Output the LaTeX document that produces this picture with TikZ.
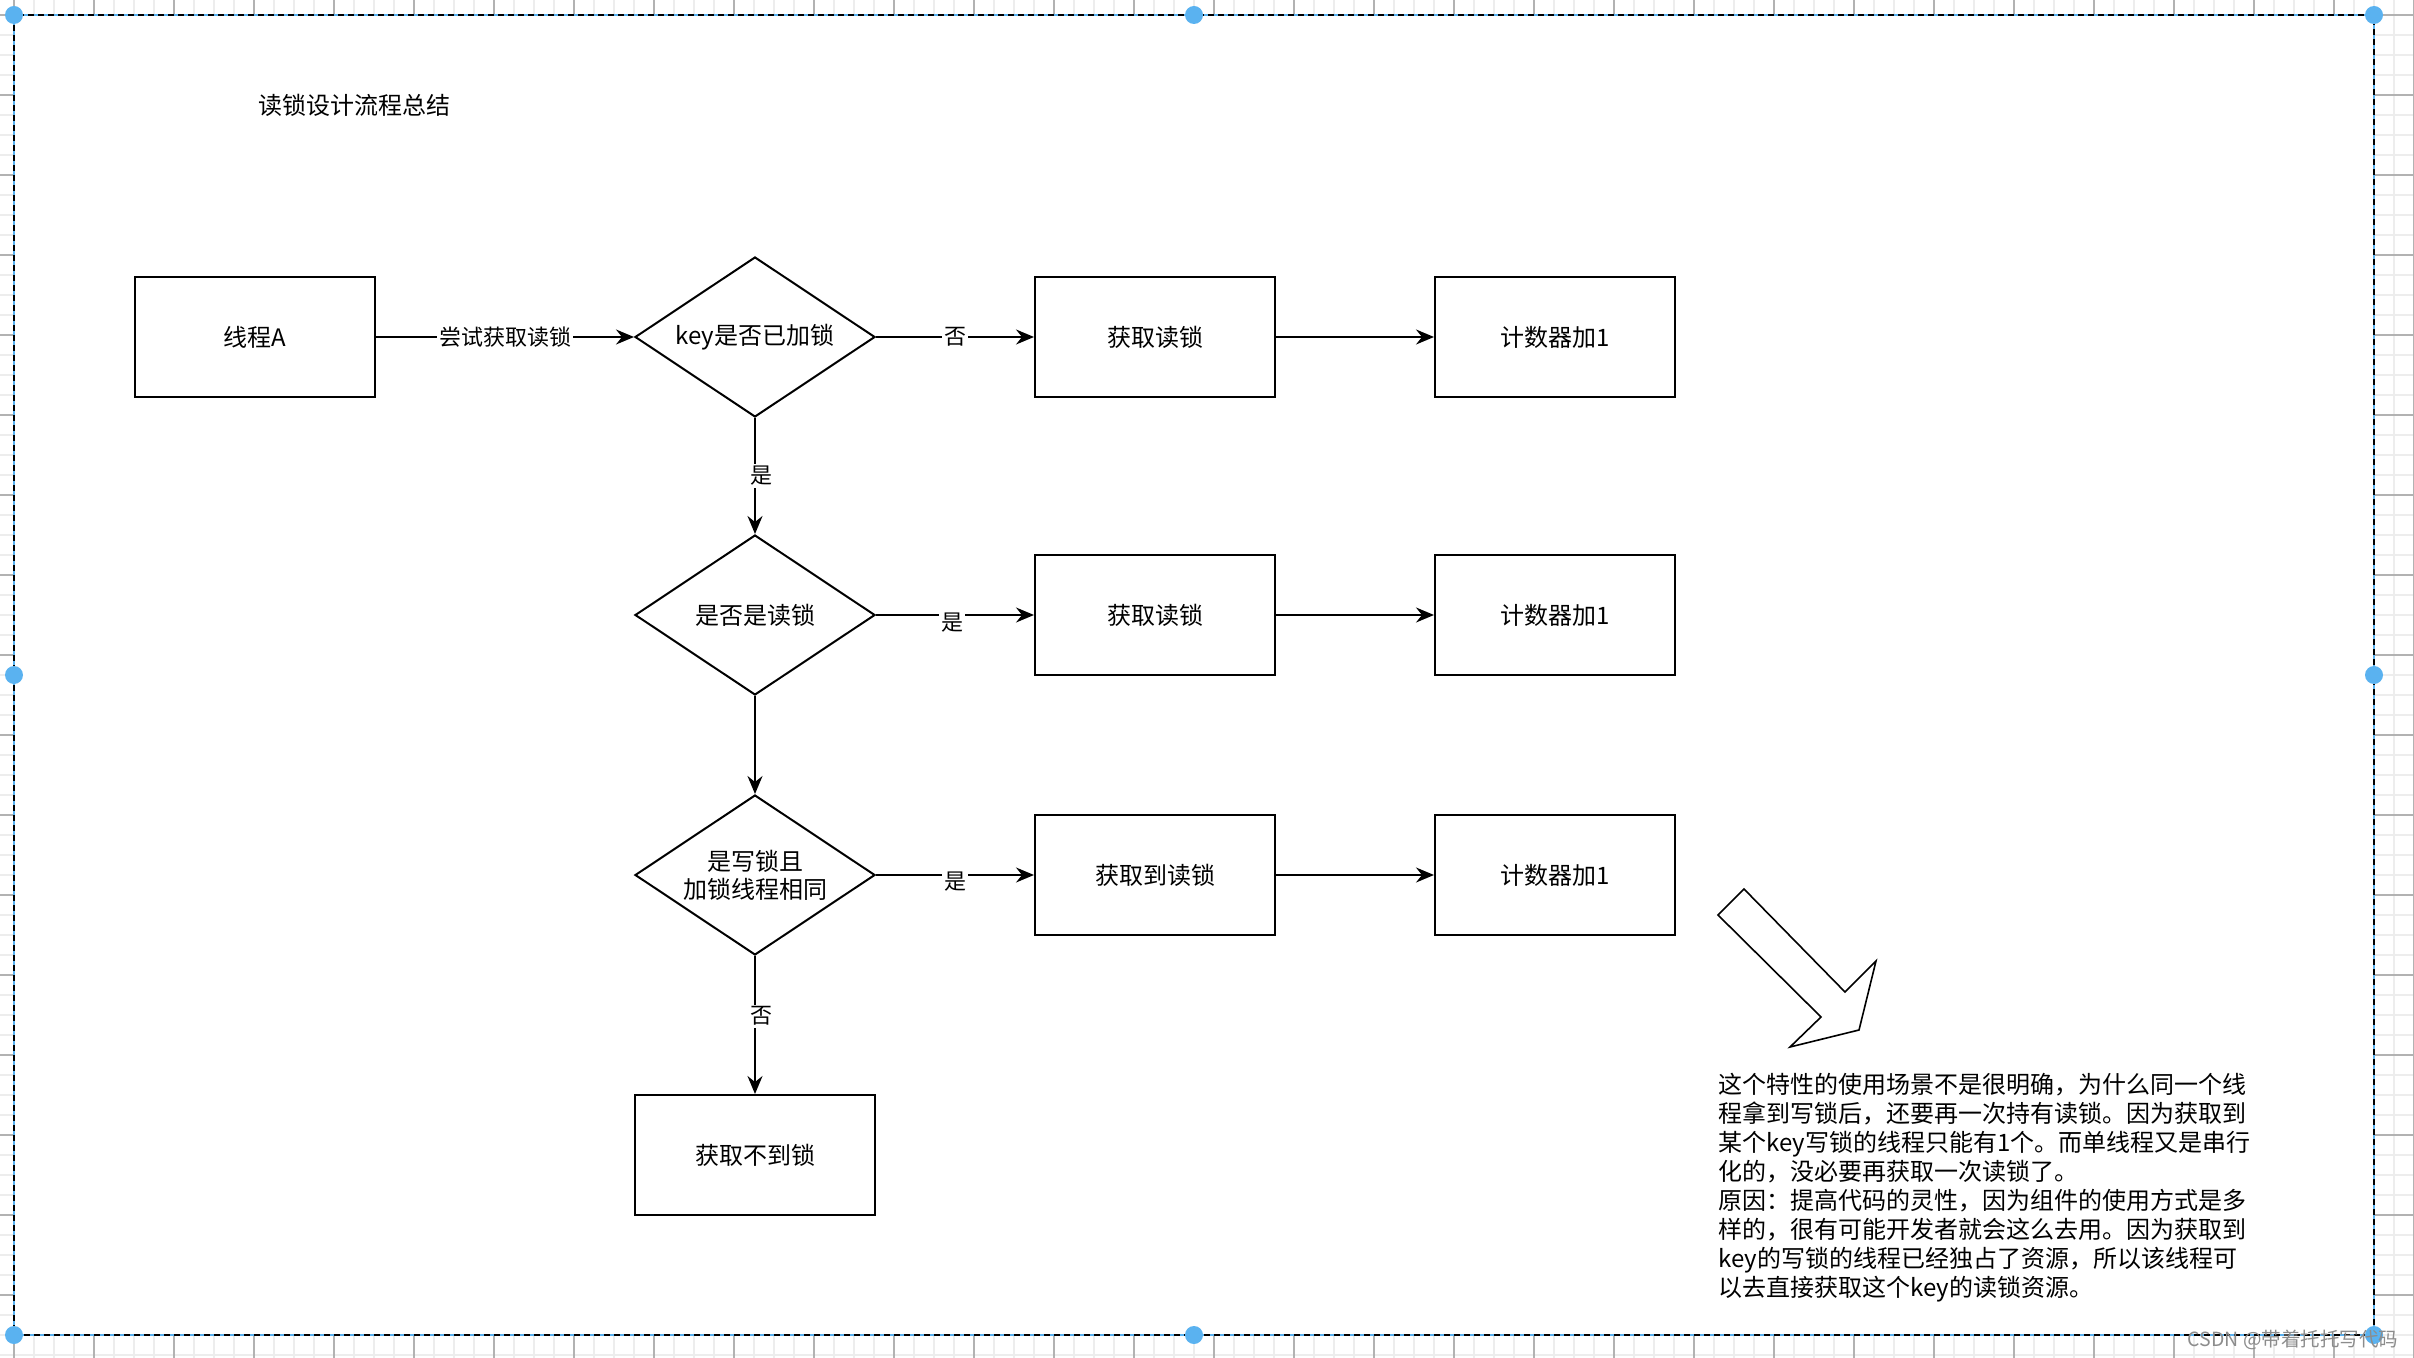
\documentclass[tikz,border=0pt]{standalone}
\usepackage{fontspec}
\setmainfont{Noto Sans CJK SC}
\usepackage{tikz}
\usetikzlibrary{arrows.meta, shapes.geometric}
\definecolor{handleblue}{RGB}{90,178,240}

\begin{document}
\begin{tikzpicture}[x=0.5pt, y=-0.5pt, % one unit = one pixel, y downwards
           > = {Stealth[length=9pt, width=7.5pt, inset=3pt]},
  box/.style = {draw, line width=1pt,
                minimum width=120pt, minimum height=60pt, inner sep=2pt,
                font=\fontsize{12pt}{14pt}\selectfont},
 test/.style = {draw, diamond, aspect=1.5, line width=1pt,
                minimum width=120pt, minimum height=80pt, inner sep=1pt,
                align=center, font=\fontsize{12pt}{14pt}\selectfont},
 edge/.style = {->, line width=1pt},
  lbl/.style = {fill=white, inner sep=1pt,
                font=\fontsize{11pt}{13pt}\selectfont},
grid minor/.style = {line width=0.6pt, color=black!7},
grid major/.style = {line width=0.6pt, color=black!30},
handle/.style = {fill=handleblue}
                    ]
	\useasboundingbox (0,0) rectangle (2414,1358);
	% canvas grid round the page
	\foreach \x in {14,34,...,2414} \draw[grid minor] (\x,0) -- (\x,1358);
	\foreach \y in {15,35,...,1358} \draw[grid minor] (0,\y) -- (2414,\y);
	\foreach \x in {14,94,...,2414} \draw[grid major] (\x,0) -- (\x,1358);
	\foreach \y in {15,95,...,1358} \draw[grid major] (0,\y) -- (2414,\y);

	% page and its selection frame
	\fill[white] (14,15) rectangle (2374,1335);
	\draw[line width=0.85pt, handleblue] (14,15) rectangle (2374,1335);
	\draw[line width=0.85pt, dash pattern=on 3pt off 2pt] (14,15) rectangle (2374,1335);
	\foreach \x/\y in {14/15, 1194/15, 2374/15, 14/675, 2374/675,
	                   14/1335, 1194/1335, 2374/1335}
		\fill[handle] (\x,\y) circle (4.5pt);

	\node (title) at (354,105) [font=\fontsize{12pt}{14pt}\selectfont] {读锁设计流程总结};

	% flow chart
	\node[box]  (thA)  at (255,337)  {线程A};
	\node[test] (key)  at (755,337)  {key是否已加锁};
	\node[box]  (get1) at (1155,337) {获取读锁};
	\node[box]  (cnt1) at (1555,337) {计数器加1};

	\node[test] (rd)   at (755,615)  {是否是读锁};
	\node[box]  (get2) at (1155,615) {获取读锁};
	\node[box]  (cnt2) at (1555,615) {计数器加1};

	\node[test] (wr)   at (755,875)  {是写锁且\\加锁线程相同};
	\node[box]  (get3) at (1155,875) {获取到读锁};
	\node[box]  (cnt3) at (1555,875) {计数器加1};

	\node[box]  (fail) at (755,1155) {获取不到锁};

	\draw[edge] (thA)  -- node[lbl] {尝试获取读锁} (key);
	\draw[edge] (key)  -- node[lbl] {否} (get1);
	\draw[edge] (get1) -- (cnt1);
	\draw[edge] (key)  -- node[lbl, xshift=3pt] {是} (rd);
	\draw[edge] (rd)   -- node[lbl, xshift=-1.5pt, yshift=-4pt] {是} (get2);
	\draw[edge] (get2) -- (cnt2);
	\draw[edge] (rd)   -- (wr);
	\draw[edge] (wr)   -- node[lbl, yshift=-3.5pt] {是} (get3);
	\draw[edge] (get3) -- (cnt3);
	\draw[edge] (wr)   -- node[lbl, xshift=3pt, yshift=4.5pt] {否} (fail);

	% hollow arrow pointing at the note
	\draw[line width=0.8pt, line join=miter]
		(1744,889) -- (1718,915) -- (1821,1017) -- (1790,1047)
		-- (1859,1030) -- (1876,961) -- (1845,992) -- cycle;

	\node[anchor=north west, inner sep=0pt, align=left,
	      font=\fontsize{12pt}{14.5pt}\selectfont] (note) at (1718,1073)
		{这个特性的使用场景不是很明确，为什么同一个线\\
		 程拿到写锁后，还要再一次持有读锁。因为获取到\\
		 某个key写锁的线程只能有1个。而单线程又是串行\\
		 化的，没必要再获取一次读锁了。\\
		 原因：提高代码的灵性，因为组件的使用方式是多\\
		 样的，很有可能开发者就会这么去用。因为获取到\\
		 key的写锁的线程已经独占了资源，所以该线程可\\
		 以去直接获取这个key的读锁资源。};

	\node[text=black!45, font=\fontsize{9.75pt}{11pt}\selectfont] (mark)
		at (2293,1340) {CSDN @带着托托写代码};
\end{tikzpicture}
\end{document}
